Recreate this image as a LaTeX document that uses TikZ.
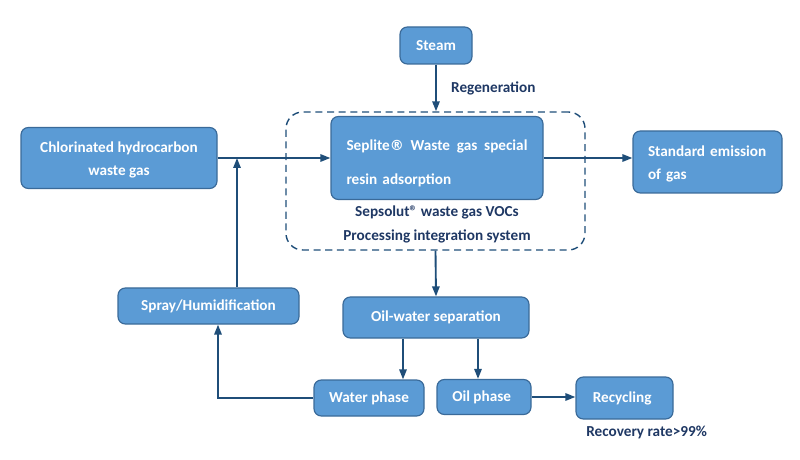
\documentclass[tikz,border=0pt]{standalone}
\usepackage{fontspec}
\setmainfont{Carlito}
\newfontfamily\regfont{DejaVu Sans}
\usetikzlibrary{arrows.meta}
\definecolor{boxfill}{HTML}{5B9BD5}
\definecolor{boxline}{HTML}{3A6A99}
\definecolor{flowcol}{HTML}{1F4E79}
\definecolor{notecol}{HTML}{1F3864}
\begin{document}
\begin{tikzpicture}[
  proc/.style={draw=boxline, line width=1pt, fill=boxfill, rounded corners=0.22cm,
    text=white, font=\fontsize{13}{20}\selectfont\bfseries, inner sep=0pt, align=center},
  flow/.style={draw=flowcol, line width=1.6pt, -{Triangle[length=3mm,width=2.2mm]}},
  note/.style={text=notecol, font=\fontsize{13}{20}\selectfont\bfseries, align=center}]
\useasboundingbox (0,0) rectangle (24,13.77);
% gestrichelter Rahmen: Gesamtsystem
\node at (13.065,8.34) [draw=flowcol, line width=1.2pt, dash pattern=on 6pt off 4pt,
  rounded corners=0.5cm, minimum width=8.97cm, minimum height=4.14cm] (sys) {};
% Prozesskaesten
\node at (13.08,12.405) [proc, minimum width=2.16cm, minimum height=1.11cm] (steam) {Steam};
\node at (3.57,9.03) [proc, minimum width=5.88cm, minimum height=1.83cm] (chlor) {\rule{0pt}{12pt}Chlorinated hydrocarbon\\waste gas};
\node at (13.11,9.03) [proc, minimum height=2.49cm, text width=5.43cm, inner xsep=0.465cm, align=left] (resin)
  {\hbox to \linewidth{\rule{0pt}{19pt}Seplite{\regfont\fontsize{12}{20}\selectfont ®}\hfill Waste\hfill gas\hfill special}\\[9pt]resin adsorption};
\node at (21.225,8.91) [proc, minimum height=1.86cm, text width=3.57cm, inner xsep=0.45cm, align=left] (emis)
  {\rule{0pt}{12pt}Standard emission\\of gas};
\node at (6.255,4.59) [proc, minimum width=5.43cm, minimum height=1.08cm] (spray) {Spray/Humidification};
\node at (13.08,4.245) [proc, minimum width=5.58cm, minimum height=1.23cm] (sep) {Oil-water separation};
\node at (11.07,1.83) [proc, minimum width=3.3cm, minimum height=1.08cm] (water) {Water phase};
\node at (14.52,1.86) [proc, minimum width=2.82cm, minimum height=1.05cm] (oil) {Oil phase\hspace{4pt}};
\node at (18.735,1.83) [proc, minimum width=2.91cm, minimum height=1.26cm] (recyc) {Recycling\hspace{4pt}};
% Beschriftungen
\node at (14.8,11.13) [note] (regen) {Regeneration};
\node at (13.11,7.04) [note] (vocs) {Sepsolut® waste gas VOCs\\Processing integration system};
\node at (19.4,0.81) [note] (rate) {Recovery rate>99\%};
% Verbindungen
\coordinate (join) at (7.11,9.03);
\coordinate (wturn) at (6.54,1.83);
\draw[flow] (steam.south) -- (steam.south |- sys.north);
\draw[flow] (chlor.east) -- (resin.west);
\draw[flow] (resin.east) -- (resin.east -| emis.west);
\draw[flow] (spray.north -| join) -- (join);
\draw[flow] (sys.south) -- (sep.north);
\draw[flow] ([xshift=-0.99cm]sep.south) -- ([xshift=-0.99cm]sep.south |- water.north);
\draw[flow] ([xshift=1.26cm]sep.south) -- ([xshift=1.26cm]sep.south |- oil.north);
\draw[flow] (oil.east) -- (oil.east -| recyc.west);
\draw[flow] (water.west) -- (wturn) -- (wturn |- spray.south);
\end{tikzpicture}
\end{document}
